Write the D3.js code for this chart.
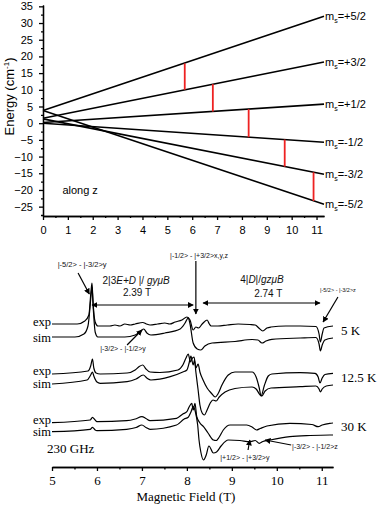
<!DOCTYPE html>
<html>
<head>
<meta charset="utf-8">
<script src="https://cdn.jsdelivr.net/npm/d3@7"></script>
<style>
  body { margin: 0; background: #fff; }
  svg { display: block; }
  .sans { font-family: "Liberation Sans", Arial, sans-serif; }
  .serif { font-family: "Liberation Serif", "Times New Roman", serif; }
  .axis path, .axis line { stroke: #000; stroke-width: 1.3; }
</style>
</head>
<body>
<svg id="chart" width="377" height="506"></svg>
<script>
// ---- top panel: Zeeman levels along z ----
const levelNames = ["+5/2", "+3/2", "+1/2", "-1/2", "-3/2", "-5/2"];
const levelFields = [0, 11.3];
const levelEnergies = [
  [3.8, 32.0],
  [1.5, 18.3],
  [0.2, 5.7],
  [0.0, -5.7],
  [1.3, -15.3],
  [3.8, -24.3],
];
// [field, upper energy, lower energy]
const transitions = [
  [5.7, 17.9, 10.0],
  [6.83, 11.7, 3.5],
  [8.27, 4.2, -4.2],
  [9.72, -4.9, -13.0],
  [10.88, -14.7, -23.3],
];
const energyTicks = [35, 30, 25, 20, 15, 10, 5, 0, -5, -10, -15, -20, -25];
const fieldTicksTop = [0, 1, 2, 3, 4, 5, 6, 7, 8, 9, 10, 11];

// ---- bottom panel: 230 GHz spectra, [field, signal] ----
const exp5 = [[5.0,0],[5.56,0],[5.73,3],[5.82,9],[5.87,34],[5.89,41],[5.91,24],[5.96,2],[6.02,-2],[6.29,-2],[6.4,-1],[6.51,-2],[6.62,0],[6.74,-1],[6.85,0],[7.02,1.5],[7.1,0],[7.18,-1],[7.35,0],[7.51,1],[7.62,0],[7.74,2],[7.89,4],[8.0,7],[8.07,4],[8.14,-6],[8.2,-3],[8.26,-4],[8.34,0],[8.45,4],[8.5,0],[8.54,-2],[8.69,-2],[8.9,-1],[9.14,0],[9.4,-0.5],[9.52,-1],[9.6,-4],[9.69,-7],[9.78,-4],[9.87,-3],[10.2,-2],[10.52,-2],[10.87,-2.5],[10.94,-10],[10.97,-18],[11.01,-10],[11.05,-4],[11.25,-2]];
const sim5 = [[5.0,0],[5.51,0],[5.71,3],[5.8,11],[5.87,42],[5.89,50],[5.92,27],[5.96,5],[6.02,0],[6.62,0],[6.85,2],[6.98,6],[7.04,8],[7.11,4],[7.2,2],[7.51,4],[7.85,8],[7.96,14],[8.03,19],[8.07,13],[8.14,-6],[8.23,-12],[8.31,-13],[8.4,-9],[8.56,-6],[9.07,-4.5],[9.45,-2.5],[9.58,-3],[9.67,-6],[9.76,-4],[9.89,-2.3],[10.52,-1],[10.87,-0.5],[10.94,-7],[10.97,-14],[11.01,-8],[11.07,-3],[11.25,-1]];
const exp12 = [[5.0,-1],[5.8,2],[5.86,7],[5.9,14],[5.93,5],[5.98,0],[6.07,-1],[6.67,0],[6.85,3],[6.94,6.5],[7.02,8],[7.09,4],[7.18,1],[7.4,0.5],[7.8,3],[7.91,8],[7.98,15],[8.03,19],[8.08,11],[8.11,14],[8.16,16],[8.2,5],[8.25,9],[8.29,1],[8.36,-7],[8.45,-15],[8.54,-20],[8.63,-24],[8.69,-21],[8.78,-12],[8.92,-2],[9.07,1],[9.45,1],[9.54,-4],[9.61,-15],[9.65,-23],[9.72,-13],[9.81,-3],[9.89,-1],[10.52,0.3],[10.85,-0.3],[10.92,-4],[10.96,-10],[11.01,-5],[11.07,-1.5],[11.25,-0.3]];
const sim12 = [[5.0,-1],[5.78,3],[5.86,8],[5.9,11],[5.93,7],[6.0,1],[6.07,-0.3],[6.67,1.3],[6.87,4],[7.03,8],[7.11,5],[7.2,3],[7.63,6.3],[7.91,11],[8.0,13],[8.05,20],[8.09,27],[8.14,18],[8.17,23],[8.2,11],[8.25,-7],[8.29,-22],[8.34,-30],[8.39,-32],[8.45,-27],[8.52,-20],[8.58,-17],[8.65,-18],[8.72,-14],[8.85,-9],[9.07,-5.5],[9.45,-4],[9.54,-6],[9.63,-12],[9.67,-13],[9.74,-8],[9.87,-5],[10.52,-3.7],[10.87,-3],[10.94,-6],[10.97,-9],[11.01,-6],[11.1,-3],[11.25,-2]];
const exp30 = [[5.0,-0.7],[5.85,2],[5.9,4.7],[5.95,2.5],[6.0,0.3],[6.66,1.3],[6.85,3],[7.0,5.3],[7.09,3.5],[7.18,1.3],[7.77,3.7],[7.91,8],[8.0,10.3],[8.05,15],[8.11,18.7],[8.14,12],[8.18,18.7],[8.22,5.3],[8.29,-1],[8.37,-4.7],[8.47,-11],[8.59,-18],[8.65,-18.5],[8.72,-15],[8.81,-8],[8.96,-3],[9.33,-3],[9.45,-5],[9.55,-8],[9.63,-6.5],[9.78,-4],[10.29,-1.3],[10.78,-2.5],[10.92,-4.7],[11.01,-3],[11.18,-1.3],[11.25,-1]];
const sim30 = [[5.0,-0.7],[5.85,1.7],[5.9,3.7],[5.96,1],[6.0,0.3],[6.66,1.7],[6.87,3.5],[7.0,6],[7.09,3.5],[7.18,1.7],[7.77,6],[7.94,12],[8.03,13.7],[8.09,19],[8.14,24.3],[8.19,19],[8.24,6],[8.27,-9],[8.31,-21],[8.37,-29],[8.43,-24],[8.49,-15],[8.59,-22],[8.66,-21],[8.76,-15],[8.92,-9],[9.18,-9.5],[9.4,-10.7],[9.52,-9.5],[9.61,-12.3],[9.69,-10.5],[9.85,-9],[10.29,-5.7],[10.74,-4.5],[11.18,-4],[11.25,-4]];

const traces = [exp5, sim5, exp12, sim12, exp30, sim30];
const traceKinds = ["exp", "sim", "exp", "sim", "exp", "sim"];
const traceOffsets = [143, 130, 94, 84, 45, 36];
const temperatures = ["5 K", "12.5 K", "30 K"];
const fieldTicksBottom = [5, 6, 7, 8, 9, 10, 11];

const svg = d3.select("#chart");

// arrow head marker
svg.append("defs").append("marker")
  .attr("id", "head")
  .attr("viewBox", "0 0 10 10")
  .attr("refX", 9).attr("refY", 5)
  .attr("markerWidth", 6).attr("markerHeight", 6)
  .attr("markerUnits", "userSpaceOnUse")
  .attr("orient", "auto-start-reverse")
  .append("path").attr("d", "M0,0L10,5L0,10Z").attr("fill", "#000");

// ================= top panel =================
const xE = d3.scaleLinear().domain([0, 11.3]).range([43, 324]);
const yE = d3.scaleLinear().domain([-27.8, 35.4]).range([216, 5]);

const topG = svg.append("g").attr("class", "sans");

// minor ticks first, then major
topG.append("g").attr("class", "axis").attr("transform", `translate(0,${yE(-27.8)})`)
  .call(d3.axisBottom(xE).tickValues(d3.range(0.5, 11.3, 1)).tickSize(2).tickSizeOuter(0).tickFormat(""));
topG.append("g").attr("class", "axis").attr("transform", `translate(0,${yE(-27.8)})`)
  .call(d3.axisBottom(xE).tickValues(fieldTicksTop).tickSize(4).tickPadding(6).tickSizeOuter(0))
  .call((g) => g.selectAll("text").attr("font-size", 11).attr("font-family", "Liberation Sans, Arial, sans-serif"));

topG.append("g").attr("class", "axis").attr("transform", `translate(${xE(0)},0)`)
  .call(d3.axisLeft(yE).tickValues(d3.range(-27.5, 35, 5)).tickSize(2).tickSizeOuter(0).tickFormat(""));
topG.append("g").attr("class", "axis").attr("transform", `translate(${xE(0)},0)`)
  .call(d3.axisLeft(yE).tickValues(energyTicks).tickSize(4).tickPadding(6).tickSizeOuter(0))
  .call((g) => g.selectAll("text").attr("font-size", 11).attr("font-family", "Liberation Sans, Arial, sans-serif"));

// axis title
const eLabel = topG.append("text")
  .attr("transform", `translate(14,${yE(8)}) rotate(-90)`)
  .attr("text-anchor", "middle")
  .attr("font-size", 13);
eLabel.append("tspan").text("Energy (cm");
eLabel.append("tspan").attr("font-size", 8).attr("dy", -5).text("-1");
eLabel.append("tspan").attr("dy", 5).text(")");

// level lines
const levelLine = d3.line().x((d) => xE(d[0])).y((d) => yE(d[1]));
levelEnergies.forEach((e, i) => {
  const pts = levelFields.map((f, j) => [f, e[j]]);
  topG.append("path").datum(pts).attr("d", levelLine)
    .attr("fill", "none").attr("stroke", "#000").attr("stroke-width", 1.6);

  const t = topG.append("text")
    .attr("x", xE(11.3) + 1)
    .attr("y", yE(e[1]) + 4)
    .attr("font-size", 11);
  t.append("tspan").text("m");
  t.append("tspan").attr("font-size", 7).attr("dy", 3).text("s");
  t.append("tspan").attr("dy", -3).text("=" + levelNames[i]);
});

// transitions in red
topG.selectAll(".tr").data(transitions).enter().append("line")
  .attr("x1", (d) => xE(d[0])).attr("x2", (d) => xE(d[0]))
  .attr("y1", (d) => yE(d[1])).attr("y2", (d) => yE(d[2]))
  .attr("stroke", "#ee2222").attr("stroke-width", 1.8);

topG.append("text").attr("x", xE(0.78)).attr("y", yE(-21.2))
  .attr("font-size", 11).text("along z");

// ================= bottom panel =================
const xB = d3.scaleLinear().domain([5, 11.25]).range([52, 333]);
const yS = d3.scaleLinear().domain([0, 220]).range([467, 247]);

const bot = svg.append("g").attr("class", "serif");

bot.append("g").attr("class", "axis").attr("transform", `translate(0,${yS(0)})`)
  .call(d3.axisBottom(xB).tickValues(d3.range(5.5, 11.25, 1)).tickSize(2.5).tickSizeOuter(0).tickFormat(""));
bot.append("g").attr("class", "axis").attr("transform", `translate(0,${yS(0)})`)
  .call(d3.axisBottom(xB).tickValues(fieldTicksBottom).tickFormat(d3.format("d")).tickSize(4).tickPadding(5).tickSizeOuter(0))
  .call((g) => g.selectAll("text").attr("font-size", 13).attr("font-family", "Liberation Serif, Times New Roman, serif"));

bot.append("text").attr("x", xB(7.98)).attr("y", 501)
  .attr("text-anchor", "middle").attr("font-size", 13).text("Magnetic Field (T)");

// spectra
const specLine = d3.line().x((d) => xB(d[0])).y((d) => yS(d[1])).curve(d3.curveMonotoneX);
traces.forEach((tr, i) => {
  const off = traceOffsets[i];
  bot.append("path")
    .datum(tr.map((d) => [d[0], d[1] + off]))
    .attr("d", specLine)
    .attr("fill", "none").attr("stroke", "#000").attr("stroke-width", 1.2);

  // exp label sits a little high, sim label a little low, as in the figure
  bot.append("text")
    .attr("x", xB(5) - 1)
    .attr("y", yS(off) + (traceKinds[i] === "exp" ? 1.5 : 5))
    .attr("text-anchor", "end").attr("font-size", 12.5)
    .text(traceKinds[i]);
});

temperatures.forEach((t, i) => {
  bot.append("text").attr("x", xB(11.43)).attr("y", yS(traceOffsets[i * 2] - 11 + (i === 0 ? 0 : 2)))
    .attr("font-size", 13).text(t);
});

bot.append("text").attr("x", xB(4.89)).attr("y", yS(14)).attr("font-size", 13).text("230 GHz");

// annotations
const ann = svg.append("g").attr("class", "sans").attr("fill", "#111");
function arrow(b1, s1, b2, s2, both) {
  ann.append("line")
    .attr("x1", xB(b1)).attr("y1", yS(s1)).attr("x2", xB(b2)).attr("y2", yS(s2))
    .attr("stroke", "#000").attr("stroke-width", 1.2)
    .attr("marker-end", "url(#head)")
    .attr("marker-start", both ? "url(#head)" : null);
}
function label(b, s, txt, size, anchor) {
  return ann.append("text").attr("x", xB(b)).attr("y", yS(s))
    .attr("text-anchor", anchor || "middle").attr("font-size", size).text(txt);
}

label(5.67, 200, "|-5/2> - |-3/2>y", 7.5);
arrow(5.58, 194, 5.83, 173);

const t1 = ann.append("text").attr("x", xB(6.87)).attr("y", yS(183))
  .attr("text-anchor", "middle").attr("font-size", 10);
t1.append("tspan").text("2|3");
t1.append("tspan").attr("font-style", "italic").text("E+D");
t1.append("tspan").text(" |/ ");
t1.append("tspan").attr("font-style", "italic").text("gyμB");
label(6.89, 171, "2.39 T", 10);
arrow(5.89, 162, 8.14, 162, true);

label(8.27, 209, "|-1/2> - |+3/2>x,y,z", 7);
arrow(8.2, 206, 8.2, 153);

const t2 = ann.append("text").attr("x", xB(9.67)).attr("y", yS(184))
  .attr("text-anchor", "middle").attr("font-size", 10);
t2.append("tspan").text("4|");
t2.append("tspan").attr("font-style", "italic").text("D");
t2.append("tspan").text("|/");
t2.append("tspan").attr("font-style", "italic").text("gzμB");
label(9.81, 170, "2.74 T", 10);
arrow(8.36, 164, 10.96, 164, true);

label(11.36, 175, "|-5/2> - |-3/2>z", 5.5);
arrow(11.36, 170, 11.03, 145);

label(6.58, 116, "|-3/2> - |-1/2>y", 7);
arrow(6.67, 122, 7.0, 137);

label(9.29, 7, "|+1/2> - |+3/2>y", 7);
arrow(9.36, 17, 9.4, 27);

label(10.34, 18, "|-3/2> - |-1/2>z", 7, "start");
arrow(10.32, 22, 9.74, 27);
</script>
</body>
</html>
